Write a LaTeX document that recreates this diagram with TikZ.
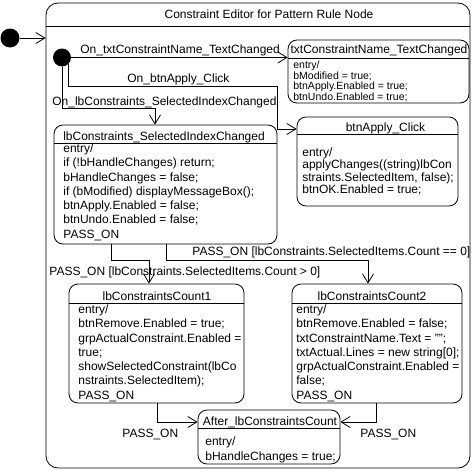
\documentclass[tikz,border=0pt]{standalone}
\usepackage{fontspec}
\setmainfont{Liberation Sans}
\usetikzlibrary{arrows.meta}
\begin{document}
\begin{tikzpicture}[x=1pt,y=-1pt,
  line width=0.8pt,
  statebox/.style={draw, rounded corners=9pt, inner sep=0pt},
  body/.style={anchor=north west, inner sep=0pt, align=left, font=\fontsize{12}{14.3}\selectfont},
  ttl/.style={anchor=base, inner sep=0pt, font=\fontsize{12}{14}\selectfont},
  lbl/.style={anchor=base west, inner sep=0pt, font=\fontsize{12}{14}\selectfont},
  trans/.style={draw, -{Straight Barb[length=9pt,width=11pt]}},
  init/.style={circle, fill=black, inner sep=0pt, minimum size=19pt}]
\useasboundingbox (0,0) rectangle (474,471);

% outer composite state
\node[statebox, rounded corners=12pt, minimum width=424pt, minimum height=465pt] (outer) at (258,235.5) {};
\draw (outer.west |- 0,26) -- (outer.east |- 0,26);
\node[ttl] (outert) at (269,18) {Constraint Editor for Pattern Rule Node};

% initial states
\node[init] (i0) at (10,38) {};
\draw[trans] (i0) -- (i0 -| outer.west);
\node[init, minimum size=18pt] (i1) at (62,57.5) {};

% txtConstraintName_TextChanged
\node[statebox, minimum width=181pt, minimum height=63pt] (txt) at (378.5,71.5) {};
\draw (txt.west |- 0,58) -- (txt.east |- 0,58);
\node[ttl] (txtt) at (379,53.5) {txtConstraintName\_TextChanged};
\node[body, font=\fontsize{10.5}{10.5}\selectfont] (txtb) at (293,59.5)
  {\rule{0pt}{9pt}entry/\\bModified = true;\\btnApply.Enabled = true;\\btnUndo.Enabled = true;};

% btnApply_Click
\node[statebox, minimum width=161pt, minimum height=89pt] (btn) at (377.5,161.5) {};
\draw (btn.west |- 0,134) -- (btn.east |- 0,134);
\node[ttl] (btnt) at (385.5,131) {btnApply\_Click};
\node[body, font=\fontsize{12}{12.5}\selectfont] (btnb) at (302,146)
  {\rule{0pt}{10pt}entry/\\applyChanges((string)lbCon\\straints.SelectedItem, false);\\btnOK.Enabled = true;};

% lbConstraints_SelectedIndexChanged
\node[statebox, minimum width=223pt, minimum height=119pt] (lbsel) at (165.5,184.5) {};
\draw (lbsel.west |- 0,143) -- (lbsel.east |- 0,143);
\node[ttl] (lbselt) at (164,140) {lbConstraints\_SelectedIndexChanged};
\node[body] (lbselb) at (63,142)
  {\rule{0pt}{10pt}entry/\\if (!bHandleChanges) return;\\bHandleChanges = false;\\if (bModified) displayMessageBox();\\btnApply.Enabled = false;\\btnUndo.Enabled = false;\\PASS\_ON};

% lbConstraintsCount1
\node[statebox, minimum width=175pt, minimum height=119pt] (cnt1) at (156.5,343.5) {};
\draw (cnt1.west |- 0,303) -- (cnt1.east |- 0,303);
\node[ttl] (cnt1t) at (157,300) {lbConstraintsCount1};
\node[body] (cnt1b) at (78,303)
  {\rule{0pt}{10pt}entry/\\btnRemove.Enabled = true;\\grpActualConstraint.Enabled =\\true;\\showSelectedConstraint(lbCo\\nstraints.SelectedItem);\\PASS\_ON};

% lbConstraintsCount2
\node[statebox, minimum width=170pt, minimum height=119pt] (cnt2) at (377,343.5) {};
\draw (cnt2.west |- 0,303) -- (cnt2.east |- 0,303);
\node[ttl] (cnt2t) at (372,300) {lbConstraintsCount2};
\node[body] (cnt2b) at (296,303)
  {\rule{0pt}{10pt}entry/\\btnRemove.Enabled = false;\\txtConstraintName.Text = "";\\txtActual.Lines = new string[0];\\grpActualConstraint.Enabled =\\false;\\PASS\_ON};

% After_lbConstraintsCount
\node[statebox, minimum width=142pt, minimum height=54pt] (after) at (269,437) {};
\draw (after.west |- 0,428) -- (after.east |- 0,428);
\node[ttl] (aftert) at (270,425) {After\_lbConstraintsCount};
\node[body, font=\fontsize{12}{15}\selectfont] (afterb) at (205,435)
  {\rule{0pt}{10pt}entry/\\bHandleChanges = true;};

% bend points
\coordinate (k2a) at (277,86);
\coordinate (k2b) at (277,129);
\coordinate (k3) at (155,108);
\coordinate (k4) at (111,260);
\coordinate (k5) at (149,260);
\coordinate (k6) at (166,260);
\coordinate (k7) at (368,260);
\coordinate (k8) at (157,422);
\coordinate (k9) at (376,422);

% transitions
\draw[trans] (i1.east) -- (i1.east -| txt.west);
\node[lbl] (l1) at (80,53.5) {On\_txtConstraintName\_TextChanged};

\draw[trans] (i1.-48) |- (k2a) -- (k2b) -- (k2b -| btn.west);
\node[lbl] (l2) at (127,82.5) {On\_btnApply\_Click};

\draw[trans] (i1.south) |- (k3) -- (k3 |- lbsel.north);
\node[lbl] (l3) at (52,105) {On\_lbConstraints\_SelectedIndexChanged};

\draw[trans] (lbsel.south -| k4) -- (k4) -- (k5) -- (k5 |- cnt1.north);
\node[lbl] (l4) at (49,275) {PASS\_ON [lbConstraints.SelectedItems.Count > 0]};

\draw[trans] (lbsel.south -| k6) -- (k6) -- (k7) -- (k7 |- cnt2.north);
\node[lbl] (l5) at (192,255.5) {PASS\_ON [lbConstraints.SelectedItems.Count == 0]};

\draw[trans] (cnt1.south -| k8) -- (k8) -- (k8 -| after.west);
\node[lbl] (l6) at (122,437) {PASS\_ON};

\draw[trans] (cnt2.south -| k9) -- (k9) -- (k9 -| after.east);
\node[lbl] (l7) at (360,437) {PASS\_ON};
\end{tikzpicture}
\end{document}
